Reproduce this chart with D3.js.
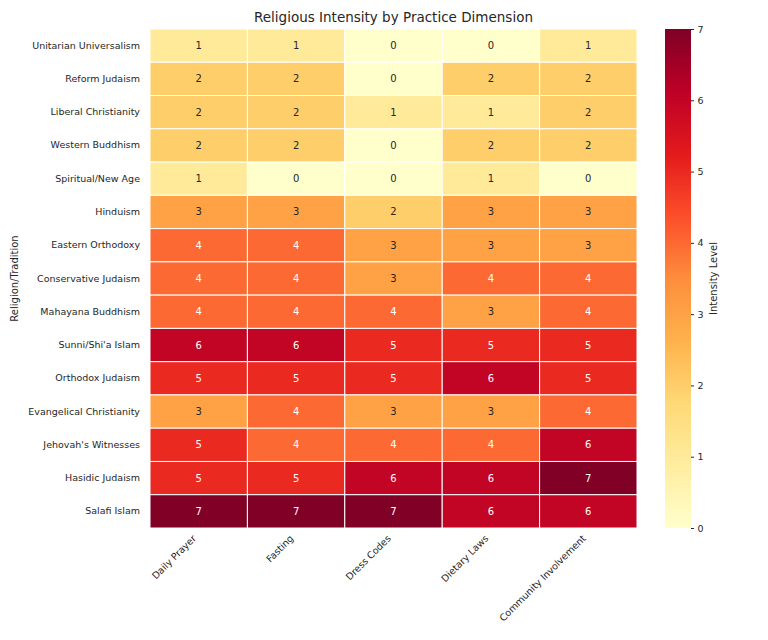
<!DOCTYPE html>
<html>
<head>
<meta charset="utf-8">
<script src="https://cdn.jsdelivr.net/npm/d3@7"></script>
<style>
  body { margin: 0; background: #fff; }
  text { font-family: "DejaVu Sans", sans-serif; }
</style>
</head>
<body>
<script>
var w = 768;
var h = 640;

var traditions = [
    "Unitarian Universalism", "Reform Judaism", "Liberal Christianity",
    "Western Buddhism", "Spiritual/New Age", "Hinduism", "Eastern Orthodoxy",
    "Conservative Judaism", "Mahayana Buddhism", "Sunni/Shi'a Islam",
    "Orthodox Judaism", "Evangelical Christianity", "Jehovah's Witnesses",
    "Hasidic Judaism", "Salafi Islam"
];

var dimensions = ["Daily Prayer", "Fasting", "Dress Codes", "Dietary Laws", "Community Involvement"];

// one row per tradition, in dimension order
var values = [
    [1, 1, 0, 0, 1],
    [2, 2, 0, 2, 2],
    [2, 2, 1, 1, 2],
    [2, 2, 0, 2, 2],
    [1, 0, 0, 1, 0],
    [3, 3, 2, 3, 3],
    [4, 4, 3, 3, 3],
    [4, 4, 3, 4, 4],
    [4, 4, 4, 3, 4],
    [6, 6, 5, 5, 5],
    [5, 5, 5, 6, 5],
    [3, 4, 3, 3, 4],
    [5, 4, 4, 4, 6],
    [5, 5, 6, 6, 7],
    [7, 7, 7, 6, 6]
];

var colorTicks = [0, 1, 2, 3, 4, 5, 6, 7];

// YlOrRd stops (linear, like matplotlib)
var ylorrd = ["#ffffcc", "#ffeda0", "#fed976", "#feb24c", "#fd8d3c", "#fc4e2a", "#e31a1c", "#bd0026", "#800026"];

var svg = d3.select("body")
    .append("svg")
    .attr("width", w)
    .attr("height", h);

var mLeft = 150, mRight = 637, mTop = 29, mBottom = 528;

var xScale = d3.scaleBand()
    .domain(dimensions)
    .range([mLeft, mRight]);

var yScale = d3.scaleBand()
    .domain(traditions)
    .range([mTop, mBottom]);

var color = d3.scaleLinear()
    .domain(d3.range(ylorrd.length).map(function(i) { return i * 7 / (ylorrd.length - 1); }))
    .range(ylorrd)
    .interpolate(d3.interpolateRgb);

var cells = [];
traditions.forEach(function(t, i) {
    dimensions.forEach(function(d, j) {
        cells.push({tradition: t, dimension: d, value: values[i][j]});
    });
});

svg.append("g")
    .selectAll("rect")
    .data(cells)
    .enter()
    .append("rect")
    .attr("x", function(d) { return xScale(d.dimension); })
    .attr("y", function(d) { return yScale(d.tradition); })
    .attr("width", xScale.bandwidth())
    .attr("height", yScale.bandwidth())
    .attr("fill", function(d) { return color(d.value); })
    .attr("stroke", "#fff")
    .attr("stroke-width", 1);

svg.append("g")
    .selectAll("text")
    .data(cells)
    .enter()
    .append("text")
    .attr("x", function(d) { return xScale(d.dimension) + xScale.bandwidth() / 2; })
    .attr("y", function(d) { return yScale(d.tradition) + yScale.bandwidth() / 2; })
    .attr("dy", "0.35em")
    .attr("text-anchor", "middle")
    .attr("font-size", 10)
    .attr("fill", function(d) { return d.value >= 4 ? "#fff" : "#262626"; })
    .text(function(d) { return d.value; });

// y axis labels
var yAxis = svg.append("g")
    .attr("transform", "translate(" + mLeft + ",0)")
    .call(d3.axisLeft(yScale).tickSize(0).tickPadding(10));
yAxis.select(".domain").remove();
yAxis.selectAll("text")
    .attr("font-size", 9.5)
    .attr("fill", "#262626")
    .style("font-family", "DejaVu Sans, sans-serif");

// x axis labels
var xAxis = svg.append("g")
    .attr("transform", "translate(0," + mBottom + ")")
    .call(d3.axisBottom(xScale).tickSize(0).tickPadding(0));
xAxis.select(".domain").remove();
xAxis.selectAll("text")
    .attr("font-size", 9.5)
    .attr("fill", "#262626")
    .style("font-family", "DejaVu Sans, sans-serif")
    .attr("text-anchor", "end")
    .attr("dy", null)
    .attr("y", 0)
    .attr("transform", "translate(-2,11) rotate(-45)");

svg.append("text")
    .attr("x", (mLeft + mRight) / 2)
    .attr("y", 22)
    .attr("text-anchor", "middle")
    .attr("font-size", 13.5)
    .attr("fill", "#262626")
    .text("Religious Intensity by Practice Dimension");

svg.append("text")
    .attr("transform", "translate(18," + (mTop + mBottom) / 2 + ") rotate(-90)")
    .attr("text-anchor", "middle")
    .attr("font-size", 10)
    .attr("fill", "#262626")
    .text("Religion/Tradition");

// colorbar
var cbX = 665, cbW = 26;
var cbScale = d3.scaleLinear().domain([0, 7]).range([mBottom, mTop]);

var defs = svg.append("defs");
var grad = defs.append("linearGradient")
    .attr("id", "cbgrad")
    .attr("x1", "0").attr("y1", "1")
    .attr("x2", "0").attr("y2", "0");
ylorrd.forEach(function(c, i) {
    grad.append("stop")
        .attr("offset", (i / (ylorrd.length - 1) * 100) + "%")
        .attr("stop-color", c);
});

svg.append("rect")
    .attr("x", cbX)
    .attr("y", mTop)
    .attr("width", cbW)
    .attr("height", mBottom - mTop)
    .attr("fill", "url(#cbgrad)");

var cbAxis = svg.append("g")
    .attr("transform", "translate(" + (cbX + cbW) + ",0)")
    .call(d3.axisRight(cbScale).tickValues(colorTicks).tickFormat(d3.format("d")).tickSize(3).tickPadding(3.5));
cbAxis.select(".domain").remove();
cbAxis.selectAll("line").attr("stroke", "#262626");
cbAxis.selectAll("text")
    .attr("font-size", 9.5)
    .attr("fill", "#262626")
    .style("font-family", "DejaVu Sans, sans-serif");

svg.append("text")
    .attr("transform", "translate(717," + (mTop + mBottom) / 2 + ") rotate(-90)")
    .attr("text-anchor", "middle")
    .attr("font-size", 10)
    .attr("fill", "#262626")
    .text("Intensity Level");
</script>
</body>
</html>
